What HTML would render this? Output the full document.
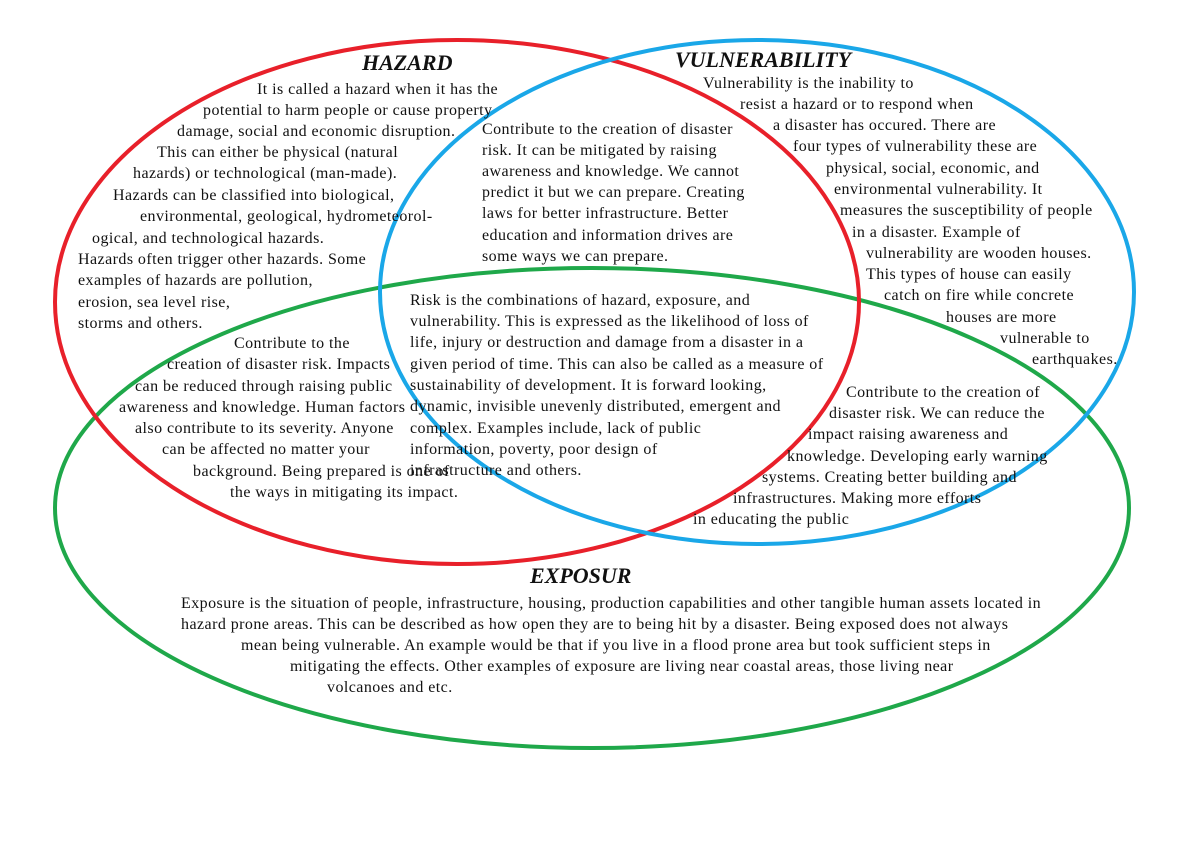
<!DOCTYPE html>
<html><head><meta charset="utf-8"><style>
html,body{margin:0;padding:0;background:#fff;}
svg{display:block;}
text{font-family:"Liberation Serif",serif;font-size:16px;letter-spacing:0.44px;fill:#111;}
.t{font-size:22px;font-weight:bold;font-style:italic;letter-spacing:0;}
</style></head><body>
<svg width="1200" height="849" viewBox="0 0 1200 849">
<ellipse cx="592" cy="508" rx="537" ry="240" fill="none" stroke="#1fa84a" stroke-width="4"/>
<ellipse cx="457" cy="302" rx="402" ry="262" fill="none" stroke="#e8202a" stroke-width="4"/>
<ellipse cx="757" cy="292" rx="377" ry="252" fill="none" stroke="#1aa7e8" stroke-width="4"/>

<text class="t" x="362" y="70">HAZARD</text>
<text x="257" y="94">It is called a hazard when it has the</text>
<text x="203" y="115">potential to harm people or cause property</text>
<text x="177" y="136">damage, social and economic disruption.</text>
<text x="157" y="157">This can either be physical (natural</text>
<text x="133" y="178">hazards) or technological (man-made).</text>
<text x="113" y="200">Hazards can be classified into biological,</text>
<text x="140" y="221">environmental, geological, hydrometeorol-</text>
<text x="92" y="243">ogical, and technological hazards.</text>
<text x="78" y="264">Hazards often trigger other hazards. Some</text>
<text x="78" y="285">examples of hazards are pollution,</text>
<text x="78" y="307">erosion, sea level rise,</text>
<text x="78" y="328">storms and others.</text>

<text x="482" y="134">Contribute to the creation of disaster</text>
<text x="482" y="155">risk. It can be mitigated by raising</text>
<text x="482" y="176">awareness and knowledge. We cannot</text>
<text x="482" y="197">predict it but we can prepare. Creating</text>
<text x="482" y="218">laws for better infrastructure. Better</text>
<text x="482" y="240">education and information drives are</text>
<text x="482" y="261">some ways we can prepare.</text>

<text class="t" x="675" y="67">VULNERABILITY</text>
<text x="703" y="88">Vulnerability is the inability to</text>
<text x="740" y="109">resist a hazard or to respond when</text>
<text x="773" y="130">a disaster has occured. There are</text>
<text x="793" y="151">four types of vulnerability these are</text>
<text x="826" y="173">physical, social, economic, and</text>
<text x="834" y="194">environmental vulnerability. It</text>
<text x="840" y="215">measures the susceptibility of people</text>
<text x="852" y="237">in a disaster. Example of</text>
<text x="866" y="258">vulnerability are wooden houses.</text>
<text x="866" y="279">This types of house can easily</text>
<text x="884" y="300">catch on fire while concrete</text>
<text x="946" y="322">houses are more</text>
<text x="1000" y="343">vulnerable to</text>
<text x="1032" y="364">earthquakes.</text>

<text x="410" y="305">Risk is the combinations of hazard, exposure, and</text>
<text x="410" y="326">vulnerability. This is expressed as the likelihood of loss of</text>
<text x="410" y="347">life, injury or destruction and damage from a disaster in a</text>
<text x="410" y="369">given period of time. This can also be called as a measure of</text>
<text x="410" y="390">sustainability of development. It is forward looking,</text>
<text x="410" y="411">dynamic, invisible unevenly distributed, emergent and</text>
<text x="410" y="433">complex. Examples include, lack of public</text>
<text x="410" y="454">information, poverty, poor design of</text>
<text x="410" y="475">infrastructure and others.</text>

<text x="234" y="348">Contribute to the</text>
<text x="167" y="369">creation of disaster risk. Impacts</text>
<text x="135" y="391">can be reduced through raising public</text>
<text x="119" y="412">awareness and knowledge. Human factors</text>
<text x="135" y="433">also contribute to its severity. Anyone</text>
<text x="162" y="454">can be affected no matter your</text>
<text x="193" y="476">background. Being prepared is one of</text>
<text x="230" y="497">the ways in mitigating its impact.</text>

<text x="846" y="397">Contribute to the creation of</text>
<text x="829" y="418">disaster risk. We can reduce the</text>
<text x="808" y="439">impact raising awareness and</text>
<text x="787" y="461">knowledge. Developing early warning</text>
<text x="762" y="482">systems. Creating better building and</text>
<text x="733" y="503">infrastructures. Making more efforts</text>
<text x="693" y="524">in educating the public</text>

<text class="t" x="530" y="583">EXPOSUR</text>
<text x="181" y="608">Exposure is the situation of people, infrastructure, housing, production capabilities and other tangible human assets located in</text>
<text x="181" y="629">hazard prone areas. This can be described as how open they are to being hit by a disaster. Being exposed does not always</text>
<text x="241" y="650">mean being vulnerable. An example would be that if you live in a flood prone area but took sufficient steps in</text>
<text x="290" y="671">mitigating the effects. Other examples of exposure are living near coastal areas, those living near</text>
<text x="327" y="692">volcanoes and etc.</text>
</svg>
</body></html>
